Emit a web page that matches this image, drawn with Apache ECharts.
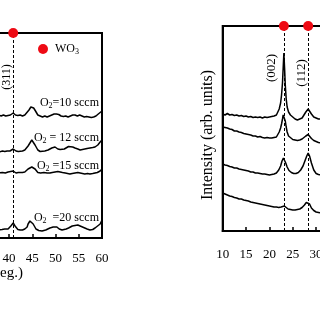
<!DOCTYPE html>
<html>
<head>
<meta charset="utf-8">
<script src="https://cdn.jsdelivr.net/npm/echarts@6/dist/echarts.min.js"></script>
<style>
  html, body { margin: 0; padding: 0; background: #fff; }
  #main { width: 320px; height: 320px; }
</style>
</head>
<body>
<div id="main"></div>
<script>
// ---- data: [2theta (deg), intensity (arb.)] ----
// left panel (O2 flow series)
var left10 = [[37.8,123],[38.3,122],[38.8,123],[39.3,122],[39.8,122.5],[40.3,123],[40.9,125],[41.4,123],[41.9,122.5],[42.4,123],[42.9,122],[43.4,123],[43.8,125],[44.3,128],[44.7,131],[45,132],[45.3,130],[45.7,127],[46.2,123],[46.7,122],[47.2,121],[47.7,122],[48.2,121],[48.7,122],[49.2,123],[49.7,124],[50.2,124],[50.7,123.5],[51.2,122],[51.7,121.5],[52.2,122],[52.7,121],[53.2,122],[53.7,123],[54.2,123],[54.7,122],[55.2,123],[55.7,122],[56.2,121],[56.7,121.5],[57.2,121],[57.7,120.5],[58.2,121],[58.7,122],[59.2,124],[59.6,126],[60,127]];
var left12 = [[37.8,86],[38.6,87],[39.1,86.5],[39.6,87],[40.2,87],[40.9,89],[41.5,87],[42,86.5],[42.4,86],[42.9,87],[43.4,88],[44.1,92],[44.5,95],[44.9,98],[45.3,96],[45.6,93],[46.2,88],[46.7,86.5],[47.1,86],[47.7,87],[48.4,88],[48.8,89],[49.2,90],[49.9,91],[50.5,89],[51,88.5],[51.4,88],[51.9,89],[52.3,90],[52.8,91.5],[53.1,92],[53.7,91],[54.2,90],[54.8,89],[55.3,88],[55.8,88.5],[56.3,89],[56.8,89.5],[57.4,90],[58,90.5],[58.5,91],[59.1,93],[59.6,96],[60,98]];
var left15 = [[37.8,65],[38.6,65.5],[39.2,65],[39.8,66],[40.2,66],[40.9,67],[41.5,65],[42,65.5],[42.4,65],[42.9,65.5],[43.4,66],[44.1,69],[44.5,70],[44.9,71],[45.3,70],[45.6,69],[46.2,65.5],[46.8,65],[47.5,65.5],[48.2,65],[48.8,65],[49.3,65.5],[49.9,66],[50.5,66.5],[51,66],[51.5,65.5],[52.1,65],[52.6,64.5],[53.1,64],[53.6,64.5],[54.2,65],[54.8,65.5],[55.3,65],[55.8,64.5],[56.3,64],[56.9,64.5],[57.4,64],[58,64.5],[58.5,65],[59,65.5],[59.6,67],[60,69]];
var left20 = [[37.8,8],[38.5,8.5],[39.1,9],[39.8,9],[40.4,12],[40.9,15],[41.3,12],[41.9,8.5],[42.4,8],[42.9,8],[43.4,9],[43.9,11],[44.1,14],[44.5,17],[44.9,16],[45.2,14],[45.8,9],[46.4,7.5],[47.1,7],[47.5,7.5],[47.9,8],[48.8,10],[49.5,11],[49.9,12],[50.3,11],[50.8,9],[51.4,8],[51.8,8],[52.3,9],[52.8,10],[53.1,11],[53.6,12],[54,13],[54.8,13],[55.3,12],[55.7,11],[56.3,10],[56.8,9],[57.4,8],[58,8.5],[58.5,10],[58.9,11],[59.6,14],[60,18]];

// right panel (four stacked patterns, top to bottom)
var right1 = [[10,117],[10.5,116],[11,117.5],[11.5,116],[12,116.5],[12.5,115.5],[13,116],[13.5,115],[14,115.5],[14.5,114.5],[15,115],[15.5,114],[16,114.5],[16.5,113.5],[17,114],[17.5,113.5],[18,114],[18.5,113],[19,114],[19.5,113.5],[20,114],[20.5,114.5],[21,115],[21.5,116],[21.8,118],[22.1,122],[22.4,128],[22.6,136],[22.8,148],[22.95,163],[23.1,178],[23.25,163],[23.4,146],[23.6,132],[23.8,124],[24.1,119],[24.5,116],[25,114],[25.5,112],[26,111],[26.5,112],[27,113],[27.4,116],[27.8,119],[28.1,121],[28.3,122],[28.6,120],[29,117],[29.5,114],[30,113],[30.5,112],[31,112]];
var right2 = [[10,104],[10.5,103.5],[11,103],[11.5,102],[12,101.5],[12.5,100],[13,100],[13.5,99],[14,98.5],[14.5,97.5],[15,97],[15.5,96.5],[16,96],[16.5,95],[17,95],[17.5,94],[18,94.5],[18.5,93.5],[19,93],[19.5,93.5],[20,93],[20.5,93],[21,93.5],[21.5,94],[21.8,96],[22.1,99],[22.4,103],[22.6,107],[22.8,112],[22.95,116],[23.1,118],[23.25,115],[23.4,110],[23.6,104],[23.8,99],[24.1,95],[24.5,93],[25,91.5],[25.5,91],[26,90.5],[26.5,91],[27,92],[27.4,93.5],[27.8,95],[28.1,96],[28.3,96.5],[28.6,95],[29,92.5],[29.5,90.5],[30,89.5],[30.5,88.5],[31,88]];
var right3 = [[10,67],[10.5,66],[11,65.5],[11.5,64.5],[12,64],[12.5,63],[13,63],[13.5,62],[14,61.5],[14.5,61],[15,60.5],[15.5,60],[16,59],[16.5,59],[17,58],[17.5,58],[18,57.5],[18.5,57],[19,57],[19.5,56.5],[20,56],[20.5,56.5],[21,57],[21.5,58],[22,61],[22.4,65],[22.7,70],[23,73],[23.2,72.5],[23.5,68],[23.8,64],[24.2,60.5],[24.7,58.5],[25.2,57.5],[25.7,57.5],[26.2,58.5],[26.7,61],[27.2,65],[27.6,70],[28,75],[28.3,78],[28.6,75],[29,68],[29.5,61],[30,57.5],[30.5,56.5],[31,56]];
var right4 = [[10,38],[10.5,37],[11,36],[11.5,35],[12,34.5],[12.5,33.5],[13,33],[13.5,32],[14,32],[14.5,31],[15,30.5],[15.5,30],[16,29],[16.5,28.5],[17,28],[17.5,27.5],[18,27],[18.5,26.5],[19,26],[19.5,25.5],[20,25],[20.5,24.5],[21,24],[21.5,24],[22,23.5],[22.5,24],[22.9,25.5],[23.2,25],[23.6,23],[24,22],[24.5,21.5],[25,21],[25.5,21],[26,21.5],[26.5,22],[27,23.5],[27.5,26],[27.9,28.5],[28.3,29.5],[28.6,27],[29,23],[29.5,20.5],[30,19],[30.5,18.5],[31,18]];

// WO3 reflections (dashed guide lines + red dots)
var leftPeaks = [40.9];
var rightPeaks = [23.1, 28.3];
var yTop = 205;

var serif = '"Liberation Serif", "Times New Roman", serif';
var richTxt = {
  n: { fontFamily: serif, fontSize: 12, fill: '#000', color: '#000' },
  s: { fontFamily: serif, fontSize: 8, fill: '#000', color: '#000', padding: [6, 0, 0, 0] }
};

function xAxisOf(gi, margin) {
  return {
    type: 'value', gridIndex: gi, min: 10, max: 60, interval: 5,
    axisLine: { show: true, onZero: false, lineStyle: { color: '#000', width: 2 } },
    axisTick: { show: true, inside: true, length: 4, lineStyle: { color: '#000', width: 1.5 } },
    axisLabel: { color: '#000', fontFamily: serif, fontSize: 13, margin: margin },
    splitLine: { show: false }
  };
}
function yAxisOf(gi) {
  return {
    type: 'value', gridIndex: gi, min: 0, max: yTop,
    axisLine: { show: true, onZero: false, lineStyle: { color: '#000', width: 2 } },
    axisTick: { show: false }, axisLabel: { show: false }, splitLine: { show: false }
  };
}
function curve(data, gi, peaks) {
  var s = {
    type: 'line', xAxisIndex: gi, yAxisIndex: gi, data: data,
    showSymbol: false, symbol: 'none', silent: true,
    lineStyle: { color: '#000', width: 1.5 }
  };
  if (peaks) {
    s.markLine = {
      symbol: 'none', silent: true, label: { show: false },
      lineStyle: { color: '#000', type: [3, 2], width: 1 },
      data: peaks.map(function (p) { return { xAxis: p }; })
    };
  }
  return s;
}
function dots(gi, peaks) {
  return {
    name: 'WO3', type: 'scatter', xAxisIndex: gi, yAxisIndex: gi,
    data: peaks.map(function (p) { return [p, yTop]; }),
    symbolSize: 10, clip: false, z: 10, silent: true,
    itemStyle: { color: '#ee0a14', opacity: 1 }
  };
}
function label(x, y, text) {
  return {
    type: 'text', x: x, y: y, silent: true,
    style: { text: text, rich: richTxt, align: 'right', verticalAlign: 'middle', fill: '#000' }
  };
}
function rotLabel(x, y, text, size) {
  return {
    type: 'text', x: x, y: y, rotation: Math.PI / 2, silent: true,
    style: { text: text, font: size + 'px ' + serif, align: 'center', verticalAlign: 'middle', fill: '#000' }
  };
}

var chart = echarts.init(document.getElementById('main'), null, { renderer: 'canvas' });
chart.setOption({
  animation: false,
  backgroundColor: '#fff',
  grid: [
    { left: -130.5, top: 33, width: 232.5, height: 205, show: true, borderColor: '#000', borderWidth: 2, containLabel: false, outerBoundsMode: 'none' },
    { left: 222.7, top: 26, width: 233.5, height: 205, show: true, borderColor: '#000', borderWidth: 2, containLabel: false, outerBoundsMode: 'none' }
  ],
  xAxis: [xAxisOf(0, 14), xAxisOf(1, 17)],
  yAxis: [yAxisOf(0), yAxisOf(1)],
  legend: {
    data: ['WO3'], left: 33, top: 38, icon: 'circle', itemWidth: 10, itemHeight: 10,
    formatter: function () { return '{n|WO}{s|3}'; },
    textStyle: { color: '#000', fontFamily: serif, fontSize: 12, padding: [0, 0, 0, 2], rich: richTxt }
  },
  series: [
    curve(left10, 0, leftPeaks), curve(left12, 0), curve(left15, 0), curve(left20, 0),
    curve(right1, 1, rightPeaks), curve(right2, 1), curve(right3, 1), curve(right4, 1),
    dots(0, leftPeaks), dots(1, rightPeaks)
  ],
  graphic: [
    label(99, 103, '{n|O}{s|2}{n|=10 sccm}'),
    label(99, 138, '{n|O}{s|2}{n| = 12 sccm}'),
    label(99, 166, '{n|O}{s|2}{n| =15 sccm}'),
    label(99, 218, '{n|O}{s|2}{n|  =20 sccm}'),
    rotLabel(7, 77, '(311)', 12),
    rotLabel(272, 68, '(002)', 13),
    rotLabel(302, 73, '(112)', 13),
    rotLabel(208, 135, 'Intensity (arb. units)', 16),
    {
      type: 'text', x: 23, y: 273, silent: true,
      style: { text: '2\u03b8 (deg.)', font: '15px ' + serif, align: 'right', verticalAlign: 'middle', fill: '#000' }
    }
  ]
});
</script>
</body>
</html>
